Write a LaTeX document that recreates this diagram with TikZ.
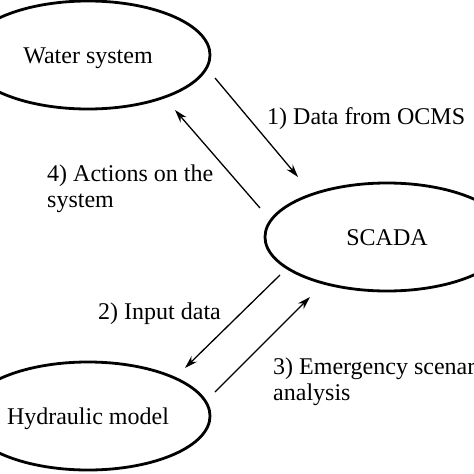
\documentclass[tikz,border=0pt]{standalone}
\usepackage{fontspec}
\setmainfont{Liberation Serif}
\usetikzlibrary{shapes.geometric,arrows.meta}
\begin{document}
\begin{tikzpicture}[x=1pt,y=-1pt,
  every node/.style={font=\fontsize{24}{26}\selectfont},
  blob/.style={draw=black, ellipse, line width=2.8pt, minimum width=244pt, minimum height=108pt,
               inner sep=0pt, text height=16pt, text depth=0pt},
  lbl/.style={inner sep=0pt, anchor=base west, align=left},
  flow/.style={line width=1.3pt, -{Stealth[length=13pt,width=8pt]}}]
\useasboundingbox (0,0) rectangle (474,474);
\fill[white] (0,0) rectangle (474,474);
\clip (0,0) rectangle (474,474);
% nodes
\node[blob] (water) at (88,55) {Water system};
\node[blob] (scada) at (387,237) {SCADA};
\node[blob] (hydro) at (88,416) {Hydraulic model};
% connector end points
\coordinate (a1s) at (215,78);
\coordinate (a1e) at (298,177);
\coordinate (a4s) at (260,208);
\coordinate (a4e) at (175,110);
\coordinate (a2s) at (280,275);
\coordinate (a2e) at (185,368);
\coordinate (a3s) at (215,392);
\coordinate (a3e) at (310,297);
% connectors
\draw[flow] (a1s) -- (a1e);
\draw[flow] (a4s) -- (a4e);
\draw[flow] (a2s) -- (a2e);
\draw[flow] (a3s) -- (a3e);
% labels (base = baseline of the last line)
\node[lbl] (l1) at (267,124) {1) Data from OCMS};
\node[lbl] (l4) at (47,207) {4) Actions on the\\system};
\node[lbl] (l2) at (98,319) {2) Input data};
\node[lbl] (l3) at (273,400) {3) Emergency scenario\\analysis};
\end{tikzpicture}
\end{document}
